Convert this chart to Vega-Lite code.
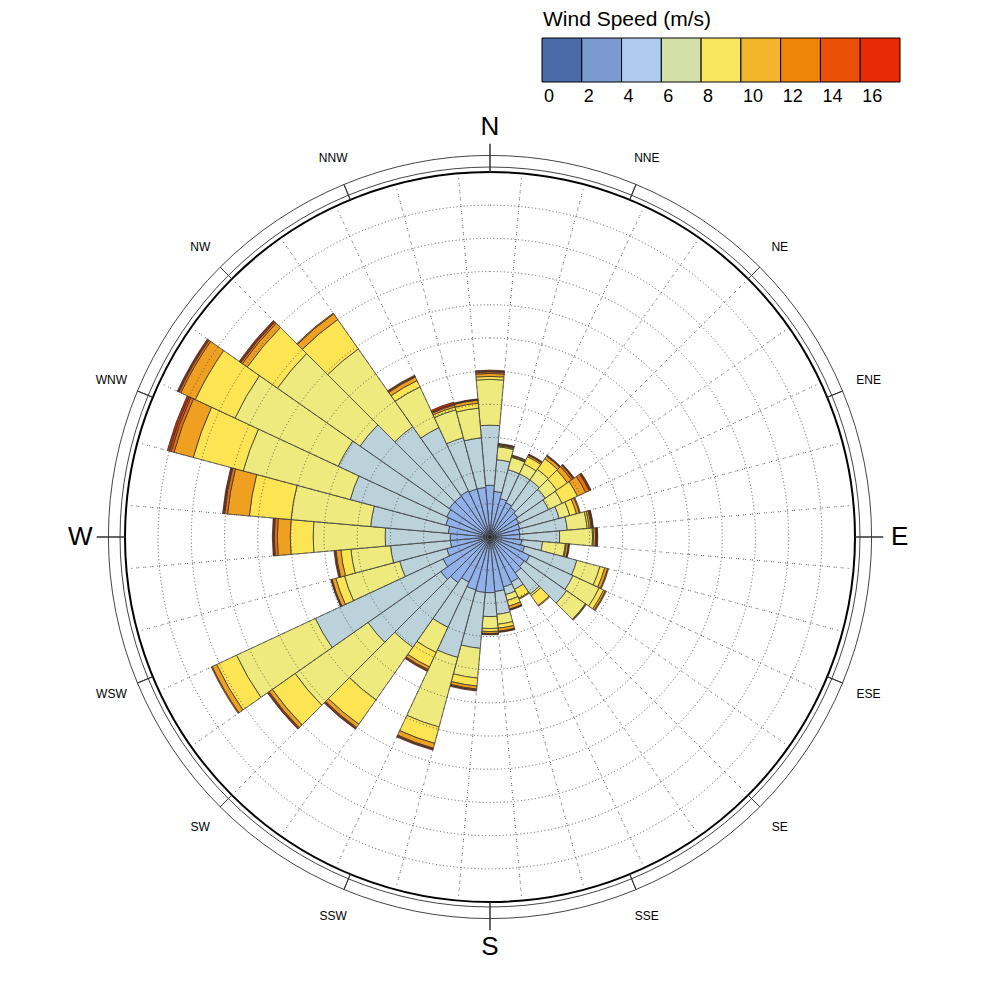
{
  "$schema": "https://vega.github.io/schema/vega-lite/v6.json",
  "width": 980,
  "height": 926,
  "autosize": {"type": "none"},
  "padding": {"left": 0, "top": 74, "right": 2, "bottom": 0},
  "background": "white",
  "config": {"view": {"stroke": null}, "font": "Liberation Sans"},
  "datasets": {
    "rose": [
      {"dir": 0, "s00": 0.12, "s02": 1.44, "s04": 1.81, "s06": 1.38, "s08": 0.09, "s10": 0.09, "s12": 0.05, "s14": 0.02, "s16": 0.03},
      {"dir": 10, "s00": 0.12, "s02": 1.26, "s04": 0.96, "s06": 0.39, "s08": 0.03, "s10": 0.03, "s12": 0.02, "s14": 0, "s16": 0.02},
      {"dir": 20, "s00": 0.12, "s02": 1.08, "s04": 0.90, "s06": 0.39, "s08": 0.02, "s10": 0.03, "s12": 0.02, "s14": 0, "s16": 0},
      {"dir": 30, "s00": 0.12, "s02": 1.02, "s04": 0.96, "s06": 0.33, "s08": 0.24, "s10": 0.05, "s12": 0.02, "s14": 0, "s16": 0.02},
      {"dir": 40, "s00": 0.12, "s02": 0.96, "s04": 1.02, "s06": 0.39, "s08": 0.39, "s10": 0.09, "s12": 0.02, "s14": 0, "s16": 0.02},
      {"dir": 50, "s00": 0.12, "s02": 0.90, "s04": 1.02, "s06": 0.42, "s08": 0.39, "s10": 0.15, "s12": 0.06, "s14": 0.02, "s16": 0.02},
      {"dir": 60, "s00": 0.12, "s02": 0.84, "s04": 0.99, "s06": 0.45, "s08": 0.51, "s10": 0.27, "s12": 0.12, "s14": 0.03, "s16": 0.03},
      {"dir": 70, "s00": 0.12, "s02": 0.81, "s04": 1.23, "s06": 0.33, "s08": 0.21, "s10": 0.09, "s12": 0.03, "s14": 0, "s16": 0},
      {"dir": 80, "s00": 0.12, "s02": 0.78, "s04": 1.44, "s06": 0.60, "s08": 0.06, "s10": 0.06, "s12": 0.03, "s14": 0.02, "s16": 0.02},
      {"dir": 90, "s00": 0.12, "s02": 0.78, "s04": 1.20, "s06": 0.99, "s08": 0.03, "s10": 0.06, "s12": 0.03, "s14": 0.02, "s16": 0.02},
      {"dir": 100, "s00": 0.12, "s02": 0.84, "s04": 0.63, "s06": 0.69, "s08": 0.03, "s10": 0.06, "s12": 0.02, "s14": 0, "s16": 0.02},
      {"dir": 110, "s00": 0.12, "s02": 0.96, "s04": 1.63, "s06": 0.72, "s08": 0.15, "s10": 0.09, "s12": 0.03, "s14": 0, "s16": 0},
      {"dir": 120, "s00": 0.12, "s02": 1.20, "s04": 1.44, "s06": 0.87, "s08": 0.15, "s10": 0.06, "s12": 0.03, "s14": 0, "s16": 0},
      {"dir": 130, "s00": 0.12, "s02": 1.14, "s04": 1.56, "s06": 0.69, "s08": 0.02, "s10": 0.02, "s12": 0, "s14": 0, "s16": 0},
      {"dir": 140, "s00": 0.12, "s02": 1.20, "s04": 0.78, "s06": 0.06, "s08": 0.36, "s10": 0.03, "s12": 0, "s14": 0, "s16": 0},
      {"dir": 150, "s00": 0.12, "s02": 1.38, "s04": 0.24, "s06": 0, "s08": 0.30, "s10": 0.03, "s12": 0, "s14": 0, "s16": 0},
      {"dir": 160, "s00": 0.12, "s02": 1.44, "s04": 0.24, "s06": 0.18, "s08": 0.18, "s10": 0.09, "s12": 0.02, "s14": 0, "s16": 0.02},
      {"dir": 170, "s00": 0.12, "s02": 1.53, "s04": 0.69, "s06": 0.30, "s08": 0.12, "s10": 0.09, "s12": 0.02, "s14": 0, "s16": 0.02},
      {"dir": 180, "s00": 0.12, "s02": 1.56, "s04": 0.72, "s06": 0.36, "s08": 0.09, "s10": 0.06, "s12": 0.02, "s14": 0, "s16": 0.02},
      {"dir": 190, "s00": 0.12, "s02": 1.56, "s04": 1.69, "s06": 0.90, "s08": 0.24, "s10": 0.09, "s12": 0.03, "s14": 0, "s16": 0.03},
      {"dir": 200, "s00": 0.12, "s02": 1.53, "s04": 2.11, "s06": 2.17, "s08": 0.51, "s10": 0.15, "s12": 0.03, "s14": 0, "s16": 0.03},
      {"dir": 210, "s00": 0.12, "s02": 1.38, "s04": 1.50, "s06": 0.84, "s08": 0.48, "s10": 0.09, "s12": 0.03, "s14": 0, "s16": 0.03},
      {"dir": 220, "s00": 0.12, "s02": 1.56, "s04": 2.38, "s06": 1.93, "s08": 0.90, "s10": 0.12, "s12": 0.03, "s14": 0, "s16": 0.03},
      {"dir": 230, "s00": 0.12, "s02": 1.69, "s04": 2.68, "s06": 2.68, "s08": 0.84, "s10": 0.12, "s12": 0.03, "s14": 0, "s16": 0.03},
      {"dir": 240, "s00": 0.12, "s02": 1.44, "s04": 4.25, "s06": 2.62, "s08": 0.66, "s10": 0.15, "s12": 0.03, "s14": 0, "s16": 0},
      {"dir": 250, "s00": 0.12, "s02": 1.23, "s04": 1.47, "s06": 1.72, "s08": 0.27, "s10": 0.12, "s12": 0.02, "s14": 0, "s16": 0.02},
      {"dir": 260, "s00": 0.12, "s02": 1.08, "s04": 1.81, "s06": 1.20, "s08": 0.30, "s10": 0.15, "s12": 0.03, "s14": 0, "s16": 0.03},
      {"dir": 270, "s00": 0.12, "s02": 1.08, "s04": 1.96, "s06": 2.17, "s08": 0.69, "s10": 0.39, "s12": 0.09, "s14": 0.03, "s16": 0.03},
      {"dir": 280, "s00": 0.12, "s02": 1.14, "s04": 2.35, "s06": 2.41, "s08": 1.26, "s10": 0.66, "s12": 0.09, "s14": 0.03, "s16": 0.03},
      {"dir": 290, "s00": 0.12, "s02": 1.26, "s04": 2.98, "s06": 3.34, "s08": 1.56, "s10": 0.60, "s12": 0.09, "s14": 0.06, "s16": 0.06},
      {"dir": 300, "s00": 0.12, "s02": 1.32, "s04": 3.61, "s06": 3.43, "s08": 1.32, "s10": 0.48, "s12": 0.06, "s14": 0.03, "s16": 0.03},
      {"dir": 310, "s00": 0.12, "s02": 1.38, "s04": 3.28, "s06": 3.04, "s08": 1.11, "s10": 0.18, "s12": 0.06, "s14": 0.03, "s16": 0.03},
      {"dir": 320, "s00": 0.12, "s02": 1.38, "s04": 2.56, "s06": 2.86, "s08": 1.08, "s10": 0.21, "s12": 0.03, "s14": 0, "s16": 0},
      {"dir": 330, "s00": 0.12, "s02": 1.41, "s04": 2.11, "s06": 1.35, "s08": 0.21, "s10": 0.12, "s12": 0.03, "s14": 0, "s16": 0.03},
      {"dir": 340, "s00": 0.12, "s02": 1.38, "s04": 1.60, "s06": 0.87, "s08": 0.09, "s10": 0.06, "s12": 0.03, "s14": 0, "s16": 0.06},
      {"dir": 350, "s00": 0.12, "s02": 1.38, "s04": 1.50, "s06": 0.90, "s08": 0.15, "s10": 0.09, "s12": 0.02, "s14": 0, "s16": 0.02}
    ],
    "rings": [
      {"r": 1}, {"r": 2}, {"r": 3}, {"r": 4}, {"r": 5}, {"r": 6}, {"r": 7}, {"r": 8}, {"r": 9}, {"r": 10}
    ],
    "frame": [
      {"r": 11, "kind": "frame"}, {"r": 11.15, "kind": "outer"}, {"r": 11.5, "kind": "outer"}
    ],
    "spokes": [
      {"ang": 5, "len": 10.85}, {"ang": 15, "len": 10.85}, {"ang": 25, "len": 10.85}, {"ang": 35, "len": 10.85},
      {"ang": 45, "len": 10.85}, {"ang": 55, "len": 10.85}, {"ang": 65, "len": 10.85}, {"ang": 75, "len": 10.85},
      {"ang": 85, "len": 10.85}, {"ang": 95, "len": 10.85}, {"ang": 105, "len": 10.85}, {"ang": 115, "len": 10.85},
      {"ang": 125, "len": 10.85}, {"ang": 135, "len": 10.85}, {"ang": 145, "len": 10.85}, {"ang": 155, "len": 10.85},
      {"ang": 165, "len": 10.85}, {"ang": 175, "len": 10.85}, {"ang": 185, "len": 10.85}, {"ang": 195, "len": 10.85},
      {"ang": 205, "len": 10.85}, {"ang": 215, "len": 10.85}, {"ang": 225, "len": 10.85}, {"ang": 235, "len": 10.85},
      {"ang": 245, "len": 10.85}, {"ang": 255, "len": 10.85}, {"ang": 265, "len": 10.85}, {"ang": 275, "len": 10.85},
      {"ang": 285, "len": 10.85}, {"ang": 295, "len": 10.85}, {"ang": 305, "len": 10.85}, {"ang": 315, "len": 10.85},
      {"ang": 325, "len": 10.85}, {"ang": 335, "len": 10.85}, {"ang": 345, "len": 10.85}, {"ang": 355, "len": 10.85}
    ],
    "compass": [
      {"ang": 0, "lab": "N", "card": true, "tin": 11, "tout": 11.85, "lr": 12.35},
      {"ang": 22.5, "lab": "NNE", "card": false, "tin": 11, "tout": 11.5, "lr": 12.35},
      {"ang": 45, "lab": "NE", "card": false, "tin": 11, "tout": 11.5, "lr": 12.35},
      {"ang": 67.5, "lab": "ENE", "card": false, "tin": 11, "tout": 11.5, "lr": 12.35},
      {"ang": 90, "lab": "E", "card": true, "tin": 11, "tout": 11.85, "lr": 12.35},
      {"ang": 112.5, "lab": "ESE", "card": false, "tin": 11, "tout": 11.5, "lr": 12.35},
      {"ang": 135, "lab": "SE", "card": false, "tin": 11, "tout": 11.5, "lr": 12.35},
      {"ang": 157.5, "lab": "SSE", "card": false, "tin": 11, "tout": 11.5, "lr": 12.35},
      {"ang": 180, "lab": "S", "card": true, "tin": 11, "tout": 11.85, "lr": 12.35},
      {"ang": 202.5, "lab": "SSW", "card": false, "tin": 11, "tout": 11.5, "lr": 12.35},
      {"ang": 225, "lab": "SW", "card": false, "tin": 11, "tout": 11.5, "lr": 12.35},
      {"ang": 247.5, "lab": "WSW", "card": false, "tin": 11, "tout": 11.5, "lr": 12.35},
      {"ang": 270, "lab": "W", "card": true, "tin": 11, "tout": 11.85, "lr": 12.35},
      {"ang": 292.5, "lab": "WNW", "card": false, "tin": 11, "tout": 11.5, "lr": 12.35},
      {"ang": 315, "lab": "NW", "card": false, "tin": 11, "tout": 11.5, "lr": 12.35},
      {"ang": 337.5, "lab": "NNW", "card": false, "tin": 11, "tout": 11.5, "lr": 12.35}
    ],
    "bins": [
      {"lo": 0, "hi": 2, "speed": "s00"}, {"lo": 2, "hi": 4, "speed": "s02"}, {"lo": 4, "hi": 6, "speed": "s04"},
      {"lo": 6, "hi": 8, "speed": "s06"}, {"lo": 8, "hi": 10, "speed": "s08"}, {"lo": 10, "hi": 12, "speed": "s10"},
      {"lo": 12, "hi": 14, "speed": "s12"}, {"lo": 14, "hi": 16, "speed": "s14"}, {"lo": 16, "hi": 18, "speed": "s16"}
    ]
  },
  "layer": [
    {
      "data": {"name": "rose"},
      "transform": [
        {"fold": ["s00", "s02", "s04", "s06", "s08", "s10", "s12", "s14", "s16"], "as": ["speed", "freq"]},
        {"filter": "datum.freq > 0"},
        {"stack": "freq", "groupby": ["dir"], "sort": [{"field": "speed", "order": "ascending"}], "as": ["r0", "r1"]},
        {"bin": {"anchor": -5, "step": 10, "extent": [-5, 355], "nice": false}, "field": "dir", "as": ["a0", "a1"]}
      ],
      "mark": {"type": "arc", "stroke": "#2a2a2a", "strokeWidth": 0.7},
      "encoding": {
        "theta": {"field": "a0", "type": "quantitative", "stack": null, "scale": {"type": "linear", "domain": [0, 360], "range": [0, 6.283185307], "zero": true}},
        "theta2": {"field": "a1"},
        "radius": {"field": "r1", "type": "quantitative", "stack": null, "scale": {"type": "linear", "domain": [0, 11], "range": [0, 365], "zero": true}},
        "radius2": {"field": "r0"},
        "fill": {
          "field": "speed", "type": "nominal", "legend": null,
          "scale": {"domain": ["s00", "s02", "s04", "s06", "s08", "s10", "s12", "s14", "s16"],
                    "range": ["#4a6aa8", "#91b1ea", "#bcd2da", "#eeea7e", "#fce452", "#f0a020", "#e8700c", "#e04a08", "#cc2a04"]}
        }
      }
    },
    {
      "data": {"name": "rings"},
      "mark": {"type": "arc", "filled": false, "stroke": "#555555", "strokeWidth": 1, "strokeDash": [1, 2.5], "theta": 0, "theta2": 6.2832},
      "encoding": {
        "radius": {"field": "r", "type": "quantitative", "stack": null, "scale": {"type": "linear", "domain": [0, 11], "range": [0, 365], "zero": true}}
      }
    },
    {
      "data": {"name": "spokes"},
      "mark": {"type": "arc", "filled": false, "stroke": "#555555", "strokeWidth": 1, "strokeDash": [1, 6]},
      "encoding": {
        "theta": {"field": "ang", "type": "quantitative", "stack": null, "scale": {"type": "linear", "domain": [0, 360], "range": [0, 6.283185307], "zero": true}},
        "theta2": {"field": "ang"},
        "radius": {"field": "len", "type": "quantitative", "stack": null, "scale": {"type": "linear", "domain": [0, 11], "range": [0, 365], "zero": true}}
      }
    },
    {
      "data": {"name": "frame"},
      "transform": [{"filter": "datum.kind === 'frame'"}],
      "mark": {"type": "arc", "filled": false, "stroke": "#000000", "strokeWidth": 2, "theta": 0, "theta2": 6.2832},
      "encoding": {
        "radius": {"field": "r", "type": "quantitative", "stack": null, "scale": {"type": "linear", "domain": [0, 11], "range": [0, 365], "zero": true}}
      }
    },
    {
      "data": {"name": "frame"},
      "transform": [{"filter": "datum.kind === 'outer'"}],
      "mark": {"type": "arc", "filled": false, "stroke": "#444444", "strokeWidth": 1, "theta": 0, "theta2": 6.2832},
      "encoding": {
        "radius": {"field": "r", "type": "quantitative", "stack": null, "scale": {"type": "linear", "domain": [0, 11], "range": [0, 365], "zero": true}}
      }
    },
    {
      "data": {"name": "compass"},
      "mark": {"type": "arc", "filled": false, "stroke": "#333333", "strokeWidth": 1},
      "encoding": {
        "theta": {"field": "ang", "type": "quantitative", "stack": null, "scale": {"type": "linear", "domain": [0, 360], "range": [0, 6.283185307], "zero": true}},
        "theta2": {"field": "ang"},
        "radius": {"field": "tout", "type": "quantitative", "stack": null, "scale": {"type": "linear", "domain": [0, 11], "range": [0, 365], "zero": true}},
        "radius2": {"field": "tin"}
      }
    },
    {
      "data": {"name": "compass"},
      "transform": [{"filter": "!datum.card"}],
      "mark": {"type": "text", "fontSize": 12, "align": "center", "baseline": "middle", "color": "#000000"},
      "encoding": {
        "theta": {"field": "ang", "type": "quantitative", "stack": null, "scale": {"type": "linear", "domain": [0, 360], "range": [0, 6.283185307], "zero": true}},
        "radius": {"field": "lr", "type": "quantitative", "stack": null, "scale": {"type": "linear", "domain": [0, 11], "range": [0, 365], "zero": true}},
        "text": {"field": "lab"}
      }
    },
    {
      "data": {"name": "compass"},
      "transform": [{"filter": "datum.card"}],
      "mark": {"type": "text", "fontSize": 26, "align": "center", "baseline": "middle", "color": "#000000"},
      "encoding": {
        "theta": {"field": "ang", "type": "quantitative", "stack": null, "scale": {"type": "linear", "domain": [0, 360], "range": [0, 6.283185307], "zero": true}},
        "radius": {"field": "lr", "type": "quantitative", "stack": null, "scale": {"type": "linear", "domain": [0, 11], "range": [0, 365], "zero": true}},
        "text": {"field": "lab"}
      }
    },
    {
      "data": {"name": "bins"},
      "mark": {"type": "rect", "stroke": "#000000", "strokeWidth": 1},
      "encoding": {
        "x": {"field": "lo", "type": "quantitative", "axis": null, "scale": {"domain": [0, 18], "range": [542, 900]}},
        "x2": {"field": "hi"},
        "y": {"datum": 0, "type": "quantitative", "axis": null, "scale": {"domain": [0, 1], "range": [-36, 8]}},
        "y2": {"datum": 1},
        "color": {
          "field": "speed", "type": "nominal", "legend": null,
          "scale": {"domain": ["s00", "s02", "s04", "s06", "s08", "s10", "s12", "s14", "s16"],
                    "range": ["#4a6aa8", "#7b9bd0", "#aecbef", "#d5e0a8", "#f9e85e", "#f4b42c", "#ee8508", "#ea5005", "#e82a05"]}
        }
      }
    },
    {
      "data": {"name": "bins"},
      "mark": {"type": "text", "fontSize": 18, "align": "left", "baseline": "alphabetic", "dx": 2, "color": "#000000"},
      "encoding": {
        "x": {"field": "lo", "type": "quantitative"},
        "y": {"datum": 1.45, "type": "quantitative"},
        "text": {"field": "lo"}
      }
    },
    {
      "data": {"name": "bins"},
      "transform": [{"filter": "datum.lo === 0"}],
      "mark": {"type": "text", "fontSize": 21, "align": "left", "baseline": "alphabetic", "dx": 1, "color": "#000000", "text": "Wind Speed (m/s)"},
      "encoding": {
        "x": {"field": "lo", "type": "quantitative"},
        "y": {"datum": -0.27, "type": "quantitative"}
      }
    }
  ]
}
